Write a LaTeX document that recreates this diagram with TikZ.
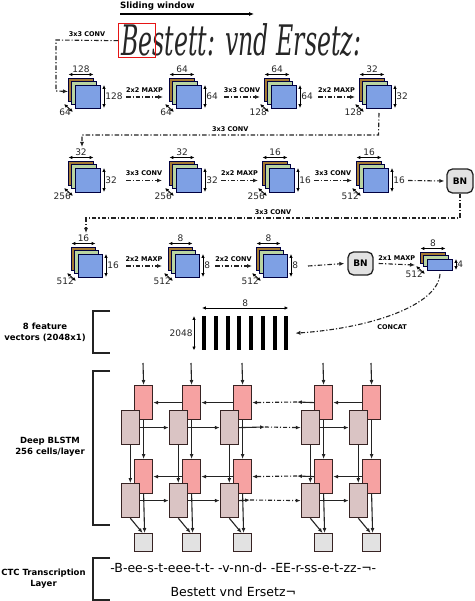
\documentclass[tikz,border=0pt]{standalone}
\usepackage{fontspec}
\setmainfont{DejaVu Sans}
\newfontfamily\hwfont{DejaVu Serif}
\usetikzlibrary{arrows.meta,calc}
\definecolor{cbrown}{RGB}{166,122,50}
\definecolor{cgreen}{RGB}{186,212,160}
\definecolor{cblue}{RGB}{126,160,228}
\definecolor{pinkc}{RGB}{246,162,162}
\definecolor{mauvec}{RGB}{218,196,196}
\definecolor{outc}{RGB}{226,226,226}
\definecolor{linec}{RGB}{35,35,35}
\definecolor{boxline}{RGB}{55,35,35}
\definecolor{winred}{RGB}{230,20,20}
\tikzset{
  flow/.style={draw=linec, line width=1.1pt, dash pattern=on 4.5pt off 2pt on 1.2pt off 2pt, -{Latex[length=5pt,width=4.2pt]}},
  dim/.style={draw=black, line width=0.9pt, {Latex[length=3.8pt,width=3.4pt]}-{Latex[length=3.8pt,width=3.4pt]}},
  numlab/.style={font=\fontsize{9}{10}\selectfont, text=black!85, inner sep=1pt},
  oplab/.style={font=\bfseries\fontsize{6.5}{7}\selectfont, inner sep=1pt},
  cubeline/.style={draw=black!75!blue, line width=1pt},
  bnbox/.style={draw=linec, line width=1.3pt, fill=outc, rounded corners=5.5pt, minimum width=26pt, minimum height=24pt, inner sep=0, font=\bfseries\fontsize{9}{10}\selectfont},
  sect/.style={font=\bfseries\fontsize{8.5}{11}\selectfont, align=center},
  bra/.style={draw=linec, line width=1.1pt},
  cell/.style={draw=boxline, line width=1.2pt, minimum width=18pt, inner sep=0, anchor=north west},
  pbox/.style={cell, fill=pinkc, minimum height=34pt},
  mbox/.style={cell, fill=mauvec, minimum height=34pt},
  obox/.style={cell, fill=outc, minimum height=18pt},
  arr/.style={draw=linec, line width=1.1pt, -{Latex[length=4.8pt,width=3.8pt]}},
  darr/.style={arr, dash pattern=on 4pt off 2pt on 1pt off 2pt},
}
% #1 name, #2 x, #3 y (blue top-left), #4 w, #5 h, #6 width label, #7 height label, #8 depth label
\newcommand{\fmap}[8]{%
  \draw[cubeline, fill=cbrown] (#2-6.5,#3-6.5) rectangle ++(#4,#5);
  \draw[cubeline, fill=cgreen] (#2-3.2,#3-3.2) rectangle ++(#4,#5);
  \node[cubeline, fill=cblue, minimum width=#4pt, minimum height=#5pt, anchor=north west, inner sep=0] (#1) at (#2,#3) {};
  \draw[dim] (#2-6.5,#3-10.5) -- node[above, numlab]{#6} (#2-6.5+#4,#3-10.5);
  \draw[dim] (#2+#4+4,#3) -- node[right, numlab]{#7} (#2+#4+4,#3+#5);
  \draw[dim] (#2-11,#3+#5-4) -- (#2-2,#3+#5+4);
  \node[numlab, anchor=north east] at (#2-3,#3+#5) {#8};
}
\begin{document}
\begin{tikzpicture}[x=1pt,y=-1pt]
\useasboundingbox (0,0) rectangle (474,601);

% ---- top: sliding window
\node[font=\bfseries\fontsize{8.7}{10}\selectfont, anchor=base west, inner sep=0] (swl) at (120,8.7) {Sliding window};
\coordinate (sw1) at (120,14);
\coordinate (sw2) at (254,14);
\draw[line width=1.1pt, -{Latex[length=5pt,width=4.2pt]}] (sw1) -- (sw2);
\node[anchor=west, inner sep=0, text=black!85] (hw) at (121,40) {\resizebox*{240pt}{33pt}{\hwfont\itshape Bestett: vnd Ersetz:}};
\node[draw=winred, line width=1.4pt, minimum width=37pt, minimum height=34pt, anchor=north west, inner sep=0] (win) at (118,23) {};

% ---- row 1
\fmap{c1}{75}{85}{25}{23}{128}{128}{64}
\fmap{c2}{176}{85}{25}{23}{64}{64}{64}
\fmap{c3}{271}{85}{25}{23}{64}{64}{128}
\fmap{c4}{366}{85}{25}{23}{32}{32}{128}

\coordinate (k1) at (56,40);
\coordinate (k2) at (56,91);
\draw[flow] (win.west) -- node[above=2pt, oplab]{3x3 CONV} (k1) -- (k2) -- ([xshift=-7pt,yshift=5.5pt]c1.west);
\draw[flow] ($(c1.east)+(25,0)$) -- node[above=3pt, oplab]{2x2 MAXP} ($(c2.west)+(-13,0)$);
\draw[flow] ($(c2.east)+(22,0)$) -- node[above=3pt, oplab]{3x3 CONV} ($(c3.west)+(-11,0)$);
\draw[flow] ($(c3.east)+(21,0)$) -- node[above=3pt, oplab]{2x2 MAXP} ($(c4.west)+(-11,0)$);

% ---- row 2
\fmap{d1}{75}{168}{25}{24}{32}{32}{256}
\fmap{d2}{176}{168}{25}{24}{32}{32}{256}
\fmap{d3}{269}{168}{25}{24}{16}{16}{256}
\fmap{d4}{363}{168}{25}{24}{16}{16}{512}
\node[bnbox] (bn1) at (460,181) {BN};

\coordinate (r1a) at (378.5,135);
\coordinate (r1b) at (82,135);
\coordinate (r1c) at (82,147);
\draw[flow] ([yshift=-4pt]c4.south) -- (r1a) -- node[above=2pt, oplab]{3x3 CONV} (r1b) -- (r1c);
\draw[flow] ($(d1.east)+(25,0)$) -- node[above=3pt, oplab]{3x3 CONV} ($(d2.west)+(-14,0)$);
\draw[flow] ($(d2.east)+(19,0)$) -- node[above=3pt, oplab]{2x2 MAXP} ($(d3.west)+(-11,0)$);
\draw[flow] ($(d3.east)+(19,0)$) -- node[above=3pt, oplab]{3x3 CONV} ($(d4.west)+(-11,0)$);
\draw[flow] ($(d4.east)+(19,0)$) -- ($(bn1.west)+(-2,0)$);

% ---- row 3
\fmap{e1}{78}{254}{24}{23}{16}{16}{512}
\fmap{e2}{175}{254}{24}{23}{8}{8}{512}
\fmap{e3}{263}{254}{24}{23}{8}{8}{512}
\node[bnbox, minimum width=25pt, minimum height=23pt] (bn2) at (360.5,263.5) {BN};
\fmap{e4}{427}{259}{25}{11}{8}{4}{512}

\coordinate (r2a) at (460,218);
\coordinate (r2b) at (86,218);
\coordinate (r2c) at (86,233);
\draw[flow] (bn1.south) -- (r2a) -- node[above=2pt, oplab]{3x3 CONV} (r2b) -- (r2c);
\draw[flow] ($(e1.east)+(23,0)$) -- node[above=3pt, oplab]{2x2 MAXP} ($(e2.west)+(-13,0)$);
\draw[flow] ($(e2.east)+(15,0)$) -- node[above=3pt, oplab]{2x2 CONV} ($(e3.west)+(-11,0)$);
\draw[flow] ($(e3.east)+(20,0)$) -- ($(bn2.west)+(-3,0)$);
\draw[flow] ($(bn2.east)+(5,0)$) -- node[above=2pt, oplab]{2x1 MAXP} ($(e4.west)+(-12,0)$);

% ---- feature vectors
\node[minimum width=86pt, minimum height=34pt, inner sep=0, anchor=north west] (fv) at (202,316) {};
\foreach \k in {0,...,7} \fill[black] (202+\k*11.75,316) rectangle ++(4,34);
\draw[dim] ([yshift=8pt]fv.north west) -- node[above, numlab]{8} ([yshift=8pt]fv.north east);
\draw[dim] ([xshift=-8pt]fv.north west) -- node[left, numlab]{2048} ([xshift=-8pt]fv.south west);
\draw[flow] ([yshift=-3pt]e4.south) .. controls (438,305) and (372,328) .. ([xshift=7pt]fv.east);
\node[oplab] (concat) at (392,327) {CONCAT};

\draw[bra] (110,311) -- (93,311) -- (93,353) -- (110,353);
\node[sect] (fvl) at (45,332) {8 feature\\vectors (2048x1)};

% ---- BLSTM
\draw[bra] (110,371) -- (93,371) -- (93,525) -- (110,525);
\node[sect] (bll) at (50,447) {Deep BLSTM\\256 cells/layer};

\foreach \i/\px in {1/134,2/182,3/233,4/314,5/362}{
  \node[pbox] (pa\i) at (\px,385) {};
  \node[pbox] (pb\i) at (\px,459) {};
  \node[obox] (o\i) at (\px,533) {};
  \coordinate (in\i) at (\px+9,363);
}
\foreach \i/\mx in {1/120.7,2/168.7,3/219.7,4/300.7,5/348.7}{
  \node[mbox] (ma\i) at (\mx,410) {};
  \node[mbox] (mb\i) at (\mx,483) {};
}
\foreach \i in {1,...,5}{
  \draw[arr] (in\i) -- (pa\i.north);
  \draw[arr] (pa\i.south) -- (pb\i.north);
  \draw[arr] (ma\i.south) -- (mb\i.north);
  \draw[arr] (mb\i.south) -- ([xshift=-1pt]o\i.north);
  \draw[arr] (pb\i.south) -- ([xshift=1pt]o\i.north);
}
\foreach \a/\b in {1/2,2/3,4/5}{
  \draw[arr] (pa\b.west) -- (pa\a.east);
  \draw[arr] (pb\b.west) -- (pb\a.east);
  \draw[arr] (ma\a.east) -- (ma\b.west);
  \draw[arr] (mb\a.east) -- (mb\b.west);
}
\coordinate (gpa) at (297,402);
\coordinate (gpb) at (297,476);
\coordinate (gma) at (265,427);
\coordinate (gmb) at (250,500);
\draw[arr] (pa4.west) -- (gpa);
\draw[darr] (gpa) -- (pa3.east);
\draw[arr] (pb4.west) -- (gpb);
\draw[darr] (gpb) -- (pb3.east);
\draw[arr] (ma3.east) -- (gma);
\draw[darr] (gma) -- (ma4.west);
\draw[arr] (mb3.east) -- (gmb);
\draw[darr] (gmb) -- (mb4.west);

% ---- CTC
\draw[bra] (110,558) -- (93,558) -- (93,600) -- (110,600);
\node[sect] (ctcl) at (43.5,579) {CTC Transcription\\Layer};
\node[font=\fontsize{12.5}{14}\selectfont, inner sep=0] (ctc1) at (243.3,568) {-B-ee-s-t-eee-t-t- -v-nn-d- -EE-r-ss-e-t-zz-¬-};
\node[font=\fontsize{12.5}{14}\selectfont, inner sep=0] (ctc2) at (233.3,591.5) {Bestett vnd Ersetz¬};
\end{tikzpicture}
\end{document}
